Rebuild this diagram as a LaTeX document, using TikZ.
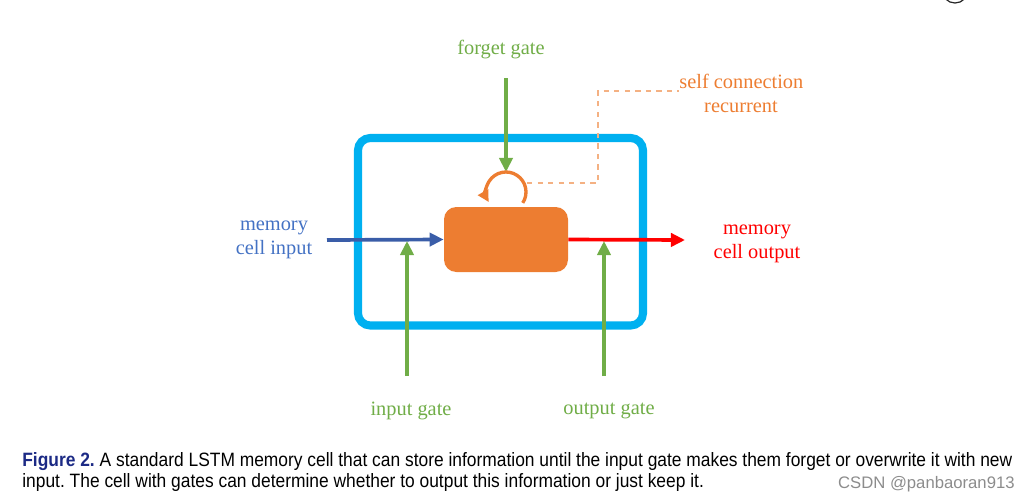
\documentclass[tikz,border=0pt]{standalone}
\usepackage{fontspec}
\setmainfont{Liberation Serif}
\newfontfamily\capfont[FakeStretch=0.9]{Liberation Sans}
\newfontfamily\markfont{Liberation Sans}
\usetikzlibrary{arrows.meta,calc}
\frenchspacing

\definecolor{boxcyan}{HTML}{00B0F0}
\definecolor{cellorange}{HTML}{ED7D31}
\definecolor{gategreen}{HTML}{70AD47}
\definecolor{inblue}{HTML}{4472C4}
\definecolor{inline}{HTML}{3A5DA8}
\definecolor{outred}{HTML}{FF0000}
\definecolor{dashorange}{HTML}{F4B183}
\definecolor{figblue}{HTML}{1C2A85}

\begin{document}
\begin{tikzpicture}[
		x=0.02cm,
		y=-0.02cm,
		lbl/.style={
			align=center,
			inner sep=0pt,
			font=\fontsize{11.6}{13.7}\selectfont
		},
		tip/.style={-{Triangle[length=8pt,width=7.5pt]}},
		gateline/.style={
			draw=gategreen,
			line width=2.1pt,
			tip
		}]

		\useasboundingbox (0,0) rectangle (1035,501);

		% memory block
		\draw[boxcyan, line width=4.6pt, rounded corners=7pt] (358,138) rectangle (643,325.5);
		\node[fill=cellorange, rounded corners=7pt, minimum width=124*0.02cm,
			minimum height=65*0.02cm, inner sep=0pt] at (506,239.5) (cell) {};

		% free ends
		\coordinate (in start) at (327,240);
		\coordinate (out end) at (685,240);
		\coordinate (fg start) at (506,78);
		\coordinate (ig start) at (407,376);
		\coordinate (ig end) at (407,241);
		\coordinate (og start) at (604,376);
		\coordinate (og end) at (604,241);
		\coordinate (loop c) at (506,192);
		\coordinate (loop top) at (506,172);
		\coordinate (loop side) at (527,183);

		\draw[inline, line width=2.1pt, tip] (in start) -- (cell.west);
		\draw[outred, line width=2.1pt, tip] (cell.east) -- (out end);

		\draw[gateline] (fg start) -- (loop top);
		\draw[gateline] (ig start) -- (ig end);
		\draw[gateline] (og start) -- (og end);

		% self loop
		\draw[cellorange, line width=1.9pt, -{Triangle[length=6.5pt,width=6.5pt]}]
			($(loop c)+(33:20)$) arc[start angle=33, end angle=-210, radius=20];

		%labels
		\node[lbl, text=gategreen] at (501,50) (fg) {forget gate};
		\node[lbl, text=gategreen] at (411,411) (ig) {input gate};
		\node[lbl, text=gategreen] at (609,411) (og) {output gate};
		\node[lbl, text=inblue] at (274,240) (mi) {memory\\cell input};
		\node[lbl, text=outred] at (757,244) (mo) {memory\\cell output};
		\node[lbl, text=cellorange, anchor=west] at (679,81) (sc) {self connection};
		\node[lbl, text=cellorange] at (741,107) (rc) {recurrent};

		\draw[dashorange, dashed, line width=0.7pt] (loop side) -| (598,91) -- (sc.west |- 0,91);

		% caption
		\node[anchor=base west, inner sep=0pt, font=\capfont\fontsize{11}{12}\selectfont] at (22,466) (cap1)
			{\textcolor{figblue}{\textbf{Figure 2.}}\ A standard LSTM memory cell that can store information until the input gate makes them forget or overwrite it with new};
		\node[anchor=base west, inner sep=0pt, font=\capfont\fontsize{11}{12}\selectfont] at (22,487) (cap2)
			{input. The cell with gates can determine whether to output this information or just keep it.};
		\node[anchor=base east, inner sep=0pt, text=black!45, font=\markfont\fontsize{9.5}{11}\selectfont] at (1015,488) (mark) {CSDN @panbaoran913};

		\draw[black!85, line width=0.7pt] (955,-10) circle[radius=13];

	\end{tikzpicture}
\end{document}
